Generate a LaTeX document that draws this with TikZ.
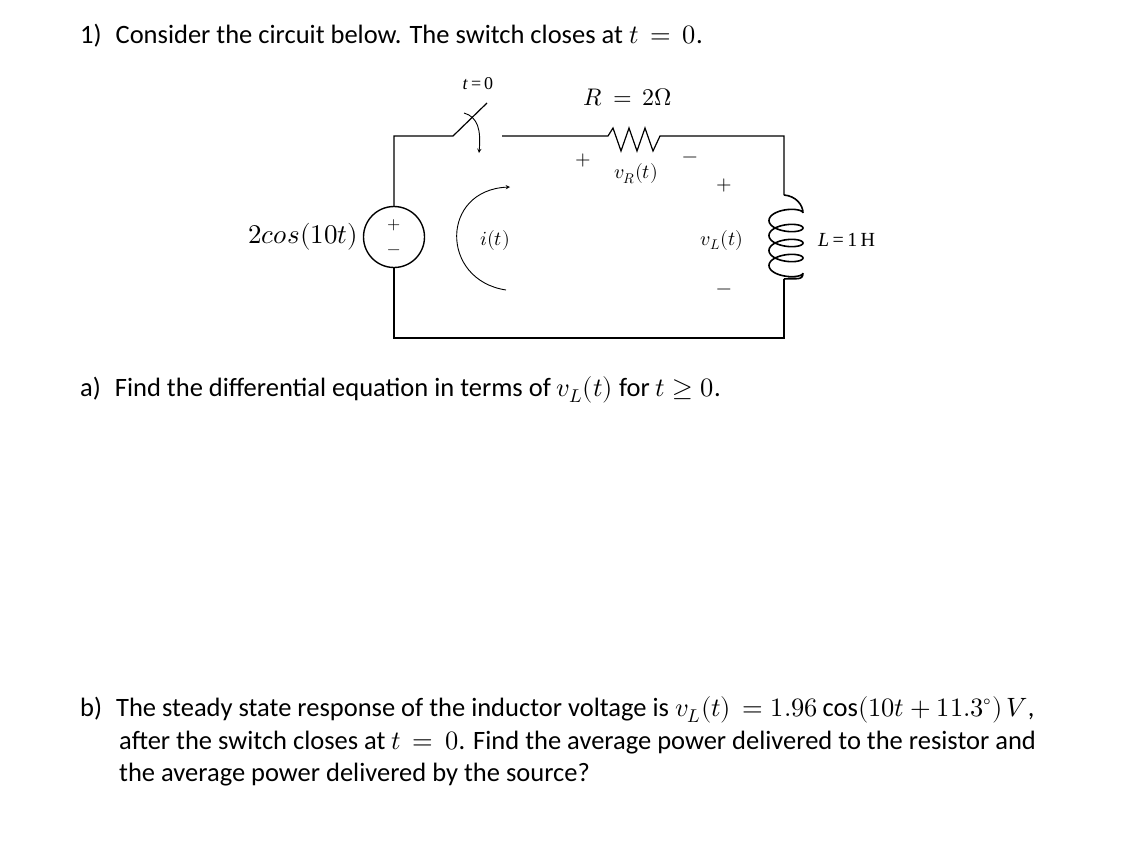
\documentclass[tikz,border=0pt]{standalone}
\usepackage{fontspec}
\usepackage{unicode-math}
\setmainfont{Carlito}
\setmathfont{Latin Modern Math}
\newfontfamily\serif{Liberation Serif}
\begin{document}
\begin{tikzpicture}[x=1pt,y=-1pt,
  wire/.style={line width=1.2pt},
  txt/.style={anchor=base west,inner sep=0pt,font=\fontsize{26.5}{30}\selectfont},
  lab/.style={inner sep=0pt,font=\fontsize{20}{22}\selectfont}]
\useasboundingbox (0,0) rectangle (1128,865);
% text
\node[txt] (t1) at (80,43) {1)\hspace{14pt}Consider the circuit below. The switch closes at $t\,=\,0$.};
\node[txt] (t2) at (80,396) {a)\hspace{14pt}Find the differential equation in terms of $v_L(t)$ for $t\geq 0$.};
\node[txt] (t3) at (80,716) {b)\hspace{14pt}The steady state response of the inductor voltage is $v_L(t)\,=1.96\cos(10t+11.3^\circ)\,V$,};
\node[txt] (t4) at (119,749) {after the switch closes at $t\,=\,0$. Find the average power delivered to the resistor and};
\node[txt] (t5) at (119,781) {the average power delivered by the source?};
% circuit coordinates
\coordinate (sw1) at (453,136);
\coordinate (sw2) at (502,136);
\coordinate (r1) at (608,136);
\coordinate (r2) at (660,136);
\coordinate (tr) at (784,136);
\coordinate (l1) at (784,195);
\coordinate (l2) at (784,279);
\coordinate (br) at (784,338);
\coordinate (bl) at (394,338);
\coordinate (tl) at (394,136);
\node[circle,draw,line width=1.4pt,minimum size=61pt,inner sep=0pt] (src) at (394,237) {};
\node[font=\fontsize{17}{20}\selectfont,inner sep=0pt] (sp) at (394,225) {$+$};
\node[font=\fontsize{17}{20}\selectfont,inner sep=0pt] (sm) at (394,252) {$-$};
\draw[wire] (src.north) -- (tl) -- (sw1) -- (487,103);
\draw[wire] (src.south) -- (bl) -- (br) -- (l2);
\draw[wire] (sw2) -- (r1) -- (613,128) -- (621,151) -- (629,128) -- (637,151) -- (645,128) -- (653,151) -- (r2) -- (tr) -- (l1);
% switch arrow
\draw[line width=0.9pt,-stealth] (464,113) .. controls (478,117) and (481,130) .. (479,153);
% inductor
\draw[line width=1.6pt] (l1) .. controls (796,196) and (803,205) .. (803,213)
  plot[domain=0:1440,samples=240,smooth] ({786+17*cos(\x)},{213-7*sin(\x)+\x/24})
  .. controls (803,281) and (796,278) .. (l2);
% current arrow
\draw[line width=0.9pt,-stealth] (506,290) .. controls (440,280) and (440,190) .. (510,187);
% labels
\node[lab,font=\fontsize{18}{20}\selectfont\serif] (t0) at (478,84) {\textit{t}\,=\,0};
\node[lab,font=\fontsize{24}{26}\selectfont] (R) at (628,97) {$R\,=\,2\Omega$};
\node[lab] (rp) at (583,160) {$+$};
\node[lab] (rm) at (690,160) {$-$};
\node[lab] (vr) at (636,174) {$v_R(t)$};
\node[lab] (lp) at (724,185) {$+$};
\node[lab] (lm) at (724,292) {$-$};
\node[lab] (vl) at (722,240) {$v_L(t)$};
\node[lab] (it) at (495,240) {$i(t)$};
\node[lab,anchor=east,font=\fontsize{27}{28}\selectfont] (vs) at (358,237) {$2cos(10t)$};
\node[lab,anchor=west,font=\fontsize{20}{22}\selectfont\serif] (L) at (818,240) {\textit{L}\,=\,1\,H};
\end{tikzpicture}
\end{document}
